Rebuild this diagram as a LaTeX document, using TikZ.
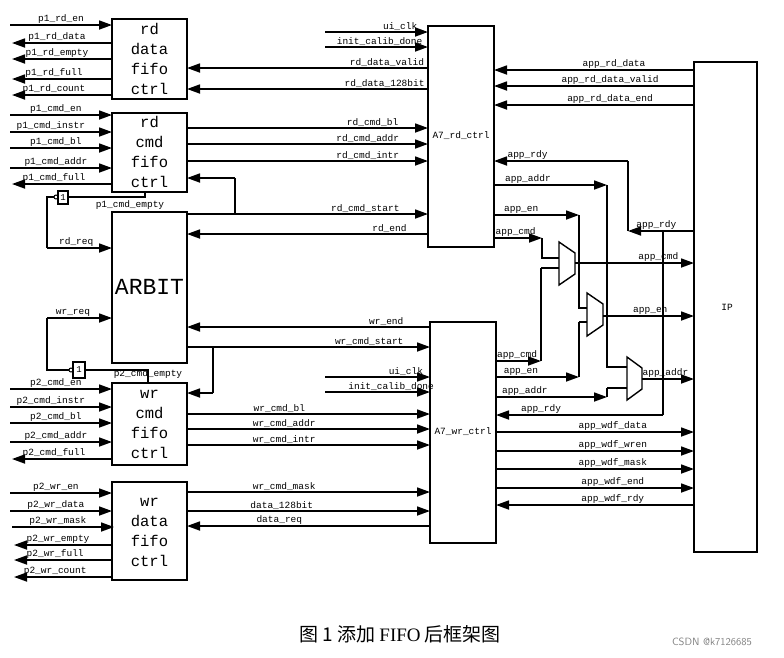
\documentclass[tikz,border=0pt]{standalone}
\usepackage{fontspec}
\setmainfont{Liberation Serif}
\newfontfamily\monof{Liberation Mono}
\newfontfamily\cjk{Noto Sans CJK SC}
\usetikzlibrary{arrows.meta}
\begin{document}
\catcode`\_=12
\begin{tikzpicture}[x=1pt,y=-1pt,
  sig/.style={line width=1.7pt,-{Triangle[length=13pt,width=9pt]}},
  wire/.style={line width=1.7pt},
  lab/.style={above,inner sep=1pt,font=\monof\fontsize{9.5}{9.5}\selectfont},
  box/.style={draw,line width=1.4pt,inner sep=0pt},
  btxt/.style={font=\monof\fontsize{15.5}{20}\selectfont,align=center}]
\useasboundingbox (0,0) rectangle (784,657);
% boxes
\draw[box] (112,19) rectangle (187,99);
\node[btxt] (rdd) at (149.5,59) {rd\\data\\fifo\\ctrl};
\draw[box] (112,113) rectangle (187,192);
\node[btxt] (rdc) at (149.5,152) {rd\\cmd\\fifo\\ctrl};
\draw[box] (112,212) rectangle (187,363);
\node[font=\monof\fontsize{23}{23}\selectfont] (arb) at (149.5,287) {ARBIT};
\draw[box] (112,383) rectangle (187,465);
\node[btxt] (wrc) at (149.5,424) {wr\\cmd\\fifo\\ctrl};
\draw[box] (112,482) rectangle (187,580);
\node[btxt] (wrd) at (149.5,532) {wr\\data\\fifo\\ctrl};
\draw[box] (428,26) rectangle (494,247);
\node[font=\monof\fontsize{9.5}{9.5}\selectfont] (rdctl) at (461,136) {A7_rd_ctrl};
\draw[box] (430,322) rectangle (496,543);
\node[font=\monof\fontsize{9.5}{9.5}\selectfont] (wrctl) at (463,432) {A7_wr_ctrl};
\draw[box] (694,62) rectangle (757,552);
\node[font=\monof\fontsize{9.5}{9.5}\selectfont] (ip) at (727,307) {IP};
% left inputs/outputs
\draw[sig] (10,25) -- node[lab]{p1_rd_en} (112,25);
\draw[sig] (112,43) -- node[lab,pos=0.55]{p1_rd_data} (12,43);
\draw[sig] (112,59) -- node[lab,pos=0.55]{p1_rd_empty} (12,59);
\draw[sig] (112,79) -- node[lab,pos=0.58]{p1_rd_full} (12,79);
\draw[sig] (112,95) -- node[lab,pos=0.58]{p1_rd_count} (12,95);
\draw[sig] (10,115) -- node[lab,pos=0.45]{p1_cmd_en} (112,115);
\draw[sig] (10,132) -- node[lab,pos=0.4]{p1_cmd_instr} (112,132);
\draw[sig] (10,148) -- node[lab,pos=0.45]{p1_cmd_bl} (112,148);
\draw[sig] (10,168) -- node[lab,pos=0.45]{p1_cmd_addr} (112,168);
\draw[sig] (112,184) -- node[lab,pos=0.58]{p1_cmd_full} (12,184);
\draw[sig] (10,389) -- node[lab,pos=0.45]{p2_cmd_en} (112,389);
\draw[sig] (10,407) -- node[lab,pos=0.4]{p2_cmd_instr} (112,407);
\draw[sig] (10,423) -- node[lab,pos=0.45]{p2_cmd_bl} (112,423);
\draw[sig] (10,442) -- node[lab,pos=0.45]{p2_cmd_addr} (112,442);
\draw[sig] (112,459) -- node[lab,pos=0.58]{p2_cmd_full} (12,459);
\draw[sig] (10,493) -- node[lab,pos=0.45]{p2_wr_en} (112,493);
\draw[sig] (10,511) -- node[lab,pos=0.45]{p2_wr_data} (112,511);
\draw[sig] (12,527) -- node[lab,pos=0.45]{p2_wr_mask} (114,527);
\draw[sig] (112,545) -- node[lab,pos=0.55]{p2_wr_empty} (14,545);
\draw[sig] (112,560) -- node[lab,pos=0.58]{p2_wr_full} (14,560);
\draw[sig] (112,577) -- node[lab,pos=0.58]{p2_wr_count} (14,577);
% inverters
\draw[line width=1.3pt] (58,191) rectangle (68,204); \node[font=\monof\fontsize{9}{9}\selectfont] (inv1) at (63,197.5) {1};
\draw[line width=1pt] (56,197) circle (2);
\draw[wire] (145,192) -- (145,197) -- (68,197);
\draw[wire] (54,197) -- (47,197) -- (47,248);
\draw[sig] (47,248) -- node[lab,pos=0.45]{rd_req} (112,248);
\node[font=\monof\fontsize{9.5}{9.5}\selectfont] (e1) at (130,205) {p1_cmd_empty};
\draw[line width=1.3pt] (73,362) rectangle (85,378); \node[font=\monof\fontsize{9}{9}\selectfont] (inv2) at (79,370) {1};
\draw[line width=1pt] (71,370) circle (2);
\draw[wire] (85,370) -- (148,370) -- (148,383);
\draw[wire] (69,370) -- (47,370) -- (47,318);
\draw[sig] (47,318) -- node[lab,pos=0.4]{wr_req} (112,318);
\node[font=\monof\fontsize{9.5}{9.5}\selectfont] (e2) at (148,374) {p2_cmd_empty};
% middle
\draw[sig] (325,32) -- node[lab,pos=0.73]{ui_clk} (428,32);
\draw[sig] (325,47) -- node[lab,pos=0.53]{init_calib_done} (428,47);
\draw[sig] (428,68) -- node[lab,pos=0.17]{rd_data_valid} (187,68);
\draw[sig] (428,89) -- node[lab,pos=0.18]{rd_data_128bit} (187,89);
\draw[sig] (187,128) -- node[lab,pos=0.77]{rd_cmd_bl} (428,128);
\draw[sig] (187,144) -- node[lab,pos=0.75]{rd_cmd_addr} (428,144);
\draw[sig] (187,161) -- node[lab,pos=0.75]{rd_cmd_intr} (428,161);
\draw[sig] (187,214) -- node[lab,pos=0.74]{rd_cmd_start} (428,214);
\draw[wire] (235,214) -- (235,178);
\draw[sig] (235,178) -- (187,178);
\draw[sig] (428,234) -- node[lab,pos=0.16]{rd_end} (187,234);
\draw[sig] (430,327) -- node[lab,pos=0.18]{wr_end} (187,327);
\draw[sig] (187,347) -- node[lab,pos=0.75]{wr_cmd_start} (430,347);
\draw[wire] (213,347) -- (213,393);
\draw[sig] (213,393) -- (187,393);
\draw[sig] (325,377) -- node[lab,pos=0.77]{ui_clk} (430,377);
\draw[sig] (325,392) -- node[lab,pos=0.63]{init_calib_done} (430,392);
\draw[sig] (187,414) -- node[lab,pos=0.38]{wr_cmd_bl} (430,414);
\draw[sig] (187,429) -- node[lab,pos=0.4]{wr_cmd_addr} (430,429);
\draw[sig] (187,445) -- node[lab,pos=0.4]{wr_cmd_intr} (430,445);
\draw[sig] (187,492) -- node[lab,pos=0.4]{wr_cmd_mask} (430,492);
\draw[sig] (187,511) -- node[lab,pos=0.39]{data_128bit} (430,511);
\draw[sig] (430,526) -- node[lab,pos=0.62]{data_req} (187,526);
% right
\draw[sig] (694,70) -- node[lab,pos=0.4]{app_rd_data} (494,70);
\draw[sig] (694,86) -- node[lab,pos=0.42]{app_rd_data_valid} (494,86);
\draw[sig] (694,105) -- node[lab,pos=0.42]{app_rd_data_end} (494,105);
\draw[wire] (628,231) -- (628,161);
\draw[sig] (628,161) -- node[lab,pos=0.75]{app_rdy} (494,161);
\draw[sig] (694,231) -- node[lab,pos=0.57]{app_rdy} (628,231);
\draw[wire] (663,231) -- (663,415);
\draw[sig] (663,415) -- node[lab,pos=0.73]{app_rdy} (496,415);
\draw[sig] (494,185) -- node[lab,pos=0.3]{app_addr} (607,185);
\draw[wire] (607,185) -- (607,367) -- (627,367);
\draw[sig] (494,215) -- node[lab,pos=0.32]{app_en} (579,215);
\draw[wire] (579,215) -- (579,308) -- (587,308);
\draw[sig] (494,238) -- node[lab,pos=0.45]{app_cmd} (542,238);
\draw[wire] (542,238) -- (542,258) -- (559,258);
\draw[wire] (541,268) -- (559,268); \draw[wire] (541,268) -- (541,361);
\draw[sig] (496,361) -- node[lab,pos=0.47]{app_cmd} (541,361);
\draw[wire] (579,322) -- (587,322); \draw[wire] (579,322) -- (579,377);
\draw[sig] (496,377) -- node[lab,pos=0.3]{app_en} (579,377);
\draw[wire] (607,388) -- (627,388); \draw[wire] (607,388) -- (607,397);
\draw[sig] (496,397) -- node[lab,pos=0.26]{app_addr} (607,397);
% muxes
\draw[line width=1.4pt,fill=white] (559,242) -- (575,253) -- (575,274) -- (559,285) -- cycle;
\draw[line width=1.4pt,fill=white] (587,293) -- (603,304) -- (603,325) -- (587,336) -- cycle;
\draw[line width=1.4pt,fill=white] (627,357) -- (642,368) -- (642,389) -- (627,400) -- cycle;
\draw[sig] (575,263) -- node[lab,pos=0.7]{app_cmd} (694,263);
\draw[sig] (603,316) -- node[lab,pos=0.52]{app_en} (694,316);
\draw[sig] (642,379) -- node[lab,pos=0.45]{app_addr} (694,379);
\draw[sig] (496,432) -- node[lab,pos=0.59]{app_wdf_data} (694,432);
\draw[sig] (496,451) -- node[lab,pos=0.59]{app_wdf_wren} (694,451);
\draw[sig] (496,469) -- node[lab,pos=0.59]{app_wdf_mask} (694,469);
\draw[sig] (496,488) -- node[lab,pos=0.59]{app_wdf_end} (694,488);
\draw[sig] (694,505) -- node[lab,pos=0.41]{app_wdf_rdy} (496,505);
% caption
\node[font=\cjk\fontsize{19}{19}\selectfont] (cap) at (400,634) {图 1\ 添加 {\rmfamily FIFO} 后框架图};
\node[font=\fontsize{10.5}{10.5}\selectfont\sffamily,text=gray] (wm) at (712,642) {CSDN @k7126685};
\end{tikzpicture}
\end{document}
